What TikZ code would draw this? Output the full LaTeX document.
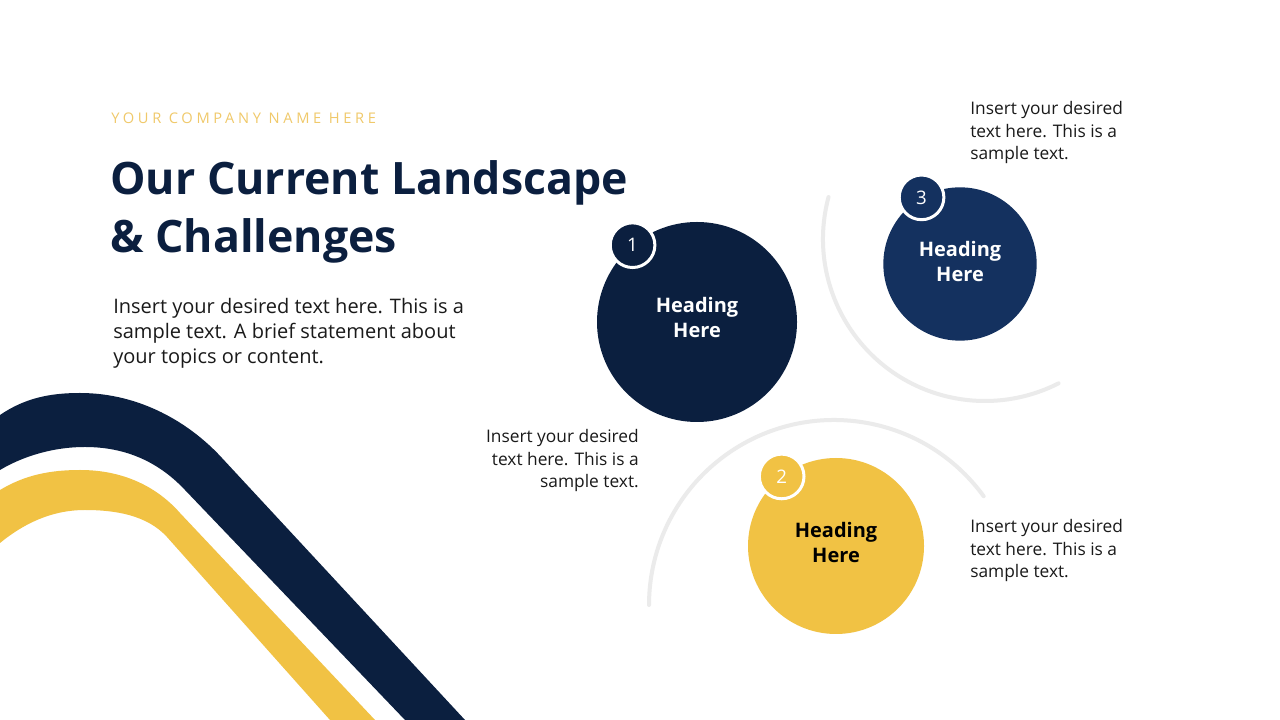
\documentclass[tikz,border=0pt]{standalone}
\usepackage{fontspec}
\setmainfont{Open Sans}
\usetikzlibrary{positioning}
\definecolor{navy}{HTML}{0B1F3F}
\definecolor{deepblue}{HTML}{14315F}
\definecolor{gold}{HTML}{F1C244}
\definecolor{palegold}{HTML}{F0C96A}
\definecolor{ringgray}{HTML}{EBEBEB}
\definecolor{ink}{HTML}{1A1A1A}

\begin{document}
\begin{tikzpicture}[x=0.75pt, y=0.75pt,
  bubble/.style={circle, inner sep=0pt},
  headtext/.style={inner sep=0pt, align=center, font=\fontsize{15}{18.75}\selectfont\bfseries},
  badge/.style={circle, draw=white, line width=2.25pt, inner sep=0pt, minimum size=33.5pt, text=white, font=\fontsize{14}{16}\selectfont},
  note/.style={inner sep=0pt, text=ink, font=\fontsize{13}{16.9}\selectfont},
  ring/.style={draw=ringgray, line width=3pt, line cap=round}]
\useasboundingbox[fill=white] (0,0) rectangle (1280,720);
%stripes
\fill[navy] (0,305) .. controls (25,322) and (50,327) .. (80,327) .. controls (140,327) and (190,297) .. (222,262) -- (465,0) -- (405,0) -- (185,230) .. controls (155,262) and (120,273) .. (85,273) .. controls (50,273) and (20,262) .. (0,250) -- cycle;
\fill[gold] (0,230) .. controls (25,245) and (50,250) .. (80,250) .. controls (125,250) and (158,232) .. (180,207) -- (375,0) -- (330,0) -- (167,183) .. controls (147,205) and (115,210) .. (85,210) .. controls (50,210) and (22,195) .. (0,177) -- cycle;
%rings
\coordinate (ringA) at (985,481);
\coordinate (ringB) at (834,115);
\draw[ring] ([shift={(165:121.5pt)}]ringA) arc[start angle=165, end angle=297, radius=121.5pt];
\draw[ring] ([shift={(36:138.75pt)}]ringB) arc[start angle=36, end angle=180, radius=138.75pt];
%titles
\node[anchor=base west, inner sep=0pt, text=palegold, font=\fontsize{11}{13}\selectfont\addfontfeature{LetterSpace=25}] (company) at (111,596) {YOUR COMPANY NAME HERE};
\node[anchor=base west, inner sep=0pt, text=navy, align=left, font=\fontsize{33.5}{43.5}\selectfont\bfseries] (title) at (110,467) {Our Current Landscape\\\& Challenges};
\node[anchor=base west, inner sep=0pt, text=ink, align=left, font=\fontsize{15}{19.1}\selectfont] (intro) at (113,356) {Insert your desired text here. This is a\\sample text. A brief statement about\\your topics or content.};
%bubbles
\node[bubble, fill=navy, minimum size=150pt] (head1) at (697,398) {};
\node[bubble, fill=gold, minimum size=132pt] (head2) at (836,174) {};
\node[bubble, fill=deepblue, minimum size=115pt] (head3) at (960,456) {};
\node[headtext, text=white] (label1) at ([yshift=3.5pt]head1) {Heading\\Here};
\node[headtext, text=black] (label2) at ([yshift=2.5pt]head2) {Heading\\Here};
\node[headtext, text=white] (label3) at ([yshift=2pt]head3) {Heading\\Here};
\node[badge, fill=navy] (num1) at (head1.130) {1};
\node[badge, fill=gold] (num2) at (head2.128) {2};
\node[badge, fill=deepblue] (num3) at (head3.120) {3};
%notes
\node[note, anchor=base west, align=left] (note3) at (970,560) {Insert your desired\\text here. This is a\\sample text.};
\node[note, anchor=base east, align=right] (note1) at (639,232) {Insert your desired\\text here. This is a\\sample text.};
\node[note, anchor=base west, align=left] (note2) at (970,142) {Insert your desired\\text here. This is a\\sample text.};
\end{tikzpicture}
\end{document}
